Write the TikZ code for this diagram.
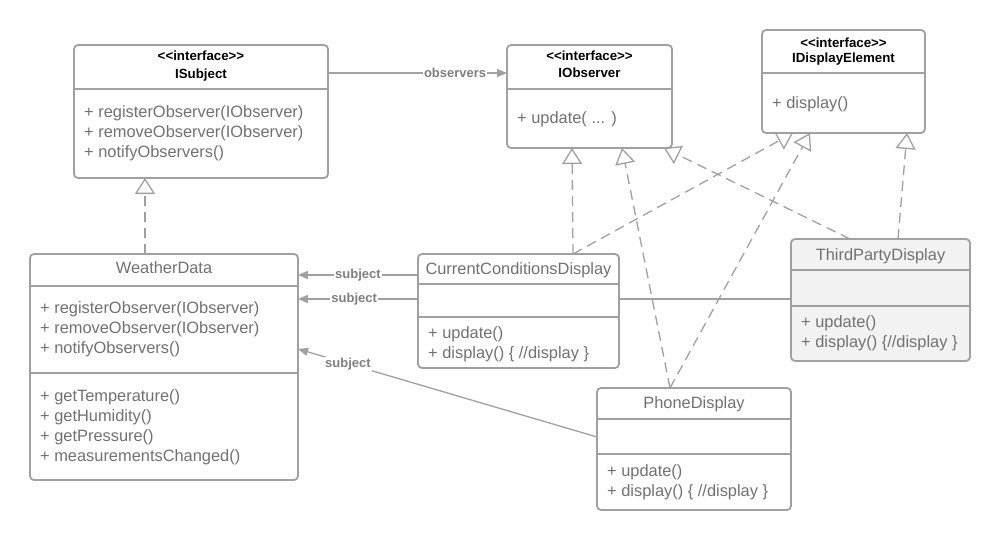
\documentclass[tikz,border=0pt]{standalone}
\usepackage{fontspec}
\setmainfont{Liberation Sans}
\usetikzlibrary{arrows.meta,calc,backgrounds}
\definecolor{linegray}{HTML}{A0A0A0}
\definecolor{txtgray}{HTML}{717171}
\definecolor{lblgray}{HTML}{7F7F7F}
\definecolor{tpfill}{HTML}{F2F2F2}
\newcommand{\ifc}{{<}{<}interface{>}{>}}
\begin{document}
\begin{tikzpicture}[x=1pt,y=-1pt,
  cls/.style={draw=linegray, line width=1.8pt, rounded corners=4pt, fill=white, inner sep=0pt, outer sep=0pt},
  divl/.style={draw=linegray, line width=1.8pt},
  mtxt/.style={anchor=base west, inner sep=0pt, font=\fontsize{16.4}{20}\selectfont, text=txtgray},
  ttxt/.style={anchor=base, inner sep=0pt, font=\fontsize{16.4}{20}\selectfont, text=txtgray},
  htxt/.style={anchor=base, inner sep=0pt, font=\bfseries\fontsize{13.3}{16}\selectfont, text=black},
  lbl/.style={font=\bfseries\fontsize{13}{16}\selectfont, text=lblgray, fill=white, inner sep=1pt},
  real/.style={draw=linegray, line width=1.3pt, dash pattern=on 10pt off 6pt, -{Triangle[open,length=16pt,width=20pt]}},
  assoc/.style={draw=linegray, line width=1.3pt, -{Triangle[length=10pt,width=8pt]}},
]
\useasboundingbox (0,0) rectangle (1000,540);

% ISubject
\node[cls, minimum width=254pt, minimum height=133pt] (isub) at (201,111.5) {};
\draw[divl] ($(isub.north west)+(0,44)$) -- ($(isub.north east)+(0,44)$);
\node[htxt] (isubh1) at (201,61) {\ifc};
\node[htxt] (isubh2) at (201,78.5) {ISubject};
\node[mtxt] (isubm1) at (84,117.5) {+ registerObserver(IObserver)};
\node[mtxt] (isubm2) at (84,137.5) {+ removeObserver(IObserver)};
\node[mtxt] (isubm3) at (84,157.5) {+ notifyObservers()};

% IObserver
\node[cls, minimum width=165pt, minimum height=103pt] (iobs) at (589.5,96.5) {};
\draw[divl] ($(iobs.north west)+(0,44)$) -- ($(iobs.north east)+(0,44)$);
\node[htxt] (iobsh1) at (589.5,61) {\ifc};
\node[htxt] (iobsh2) at (589.5,78) {IObserver};
\node[mtxt] (iobsm1) at (517,124) {+ update( ... )};

% IDisplayElement
\node[cls, minimum width=163pt, minimum height=103pt] (ide) at (843.5,81.5) {};
\draw[divl] ($(ide.north west)+(0,43)$) -- ($(ide.north east)+(0,43)$);
\node[htxt] (ideh1) at (843.5,47.5) {\ifc};
\node[htxt] (ideh2) at (843.5,63) {IDisplayElement};
\node[mtxt] (idem1) at (772,109) {+ display()};

% WeatherData
\node[cls, minimum width=268pt, minimum height=226pt] (wd) at (164,367) {};
\draw[divl] ($(wd.north west)+(0,32)$) -- ($(wd.north east)+(0,32)$);
\draw[divl] ($(wd.north west)+(0,119)$) -- ($(wd.north east)+(0,119)$);
\node[ttxt] (wdt) at (164,273) {WeatherData};
\node[mtxt] (wdm1) at (40,313) {+ registerObserver(IObserver)};
\node[mtxt] (wdm2) at (40,333) {+ removeObserver(IObserver)};
\node[mtxt] (wdm3) at (40,353) {+ notifyObservers()};
\node[mtxt] (wdm4) at (40,401) {+ getTemperature()};
\node[mtxt] (wdm5) at (40,421) {+ getHumidity()};
\node[mtxt] (wdm6) at (40,441) {+ getPressure()};
\node[mtxt] (wdm7) at (40,461) {+ measurementsChanged()};

% CurrentConditionsDisplay
\node[cls, minimum width=201pt, minimum height=114pt] (ccd) at (518.5,311) {};
\draw[divl] ($(ccd.north west)+(0,30)$) -- ($(ccd.north east)+(0,30)$);
\draw[divl] ($(ccd.north west)+(0,63)$) -- ($(ccd.north east)+(0,63)$);
\node[ttxt] (ccdt) at (518.5,274) {CurrentConditionsDisplay};
\node[mtxt] (ccdm1) at (428,338) {+ update()};
\node[mtxt] (ccdm2) at (428,358) {+ display() \{ //display \}};

% ThirdPartyDisplay
\node[cls, fill=tpfill, minimum width=179pt, minimum height=122pt] (tpd) at (880.5,300) {};
\draw[divl] ($(tpd.north west)+(0,31)$) -- ($(tpd.north east)+(0,31)$);
\draw[divl] ($(tpd.north west)+(0,67)$) -- ($(tpd.north east)+(0,67)$);
\node[ttxt] (tpdt) at (880.5,260) {ThirdPartyDisplay};
\node[mtxt] (tpdm1) at (801,327) {+ update()};
\node[mtxt] (tpdm2) at (801,347) {+ display() \{//display \}};

% PhoneDisplay
\node[cls, minimum width=194pt, minimum height=122pt] (phone) at (694,449) {};
\draw[divl] ($(phone.north west)+(0,31)$) -- ($(phone.north east)+(0,31)$);
\draw[divl] ($(phone.north west)+(0,66)$) -- ($(phone.north east)+(0,66)$);
\node[ttxt] (phonet) at (694,408) {PhoneDisplay};
\node[mtxt] (phonem1) at (607,476) {+ update()};
\node[mtxt] (phonem2) at (607,496) {+ display() \{ //display \}};

\begin{scope}[on background layer]
\draw[assoc] ($(isub.east)+(0,-38.5)$) -- node[lbl,pos=0.71]{observers} ($(iobs.west)+(0,-23.5)$);
\draw[assoc] ($(ccd.west)+(0,-36)$) -- node[lbl,pos=0.5]{subject} ($(wd.east)+(0,-92)$);
\draw[assoc] ($(tpd.west)+(0,-1)$) -- node[lbl,pos=0.886]{subject} ($(wd.east)+(0,-68)$);
\draw[assoc] ($(phone.west)+(0,-12)$) -- node[lbl,pos=0.833]{subject} ($(wd.east)+(0,-18)$);

\draw[real] ($(wd.north)+(-19,0)$) -- ($(isub.south)+(-56,0)$);
\draw[real] ($(ccd.north)+(54.5,0)$) -- ($(iobs.south)+(-17.5,0)$);
\draw[real] ($(ccd.north)+(54.5,0)$) -- ($(ide.south)+(-50.5,0)$);
\draw[real] ($(phone.north)+(-24,0)$) -- ($(iobs.south)+(32.5,0)$);
\draw[real] ($(phone.north)+(-24,0)$) -- ($(ide.south)+(-33.5,0)$);
\draw[real] ($(tpd.north)+(-30.5,0)$) -- ($(iobs.south)+(74.5,0)$);
\draw[real] ($(tpd.north)+(17.5,0)$) -- ($(ide.south)+(63.5,0)$);
\end{scope}
\end{tikzpicture}
\end{document}
